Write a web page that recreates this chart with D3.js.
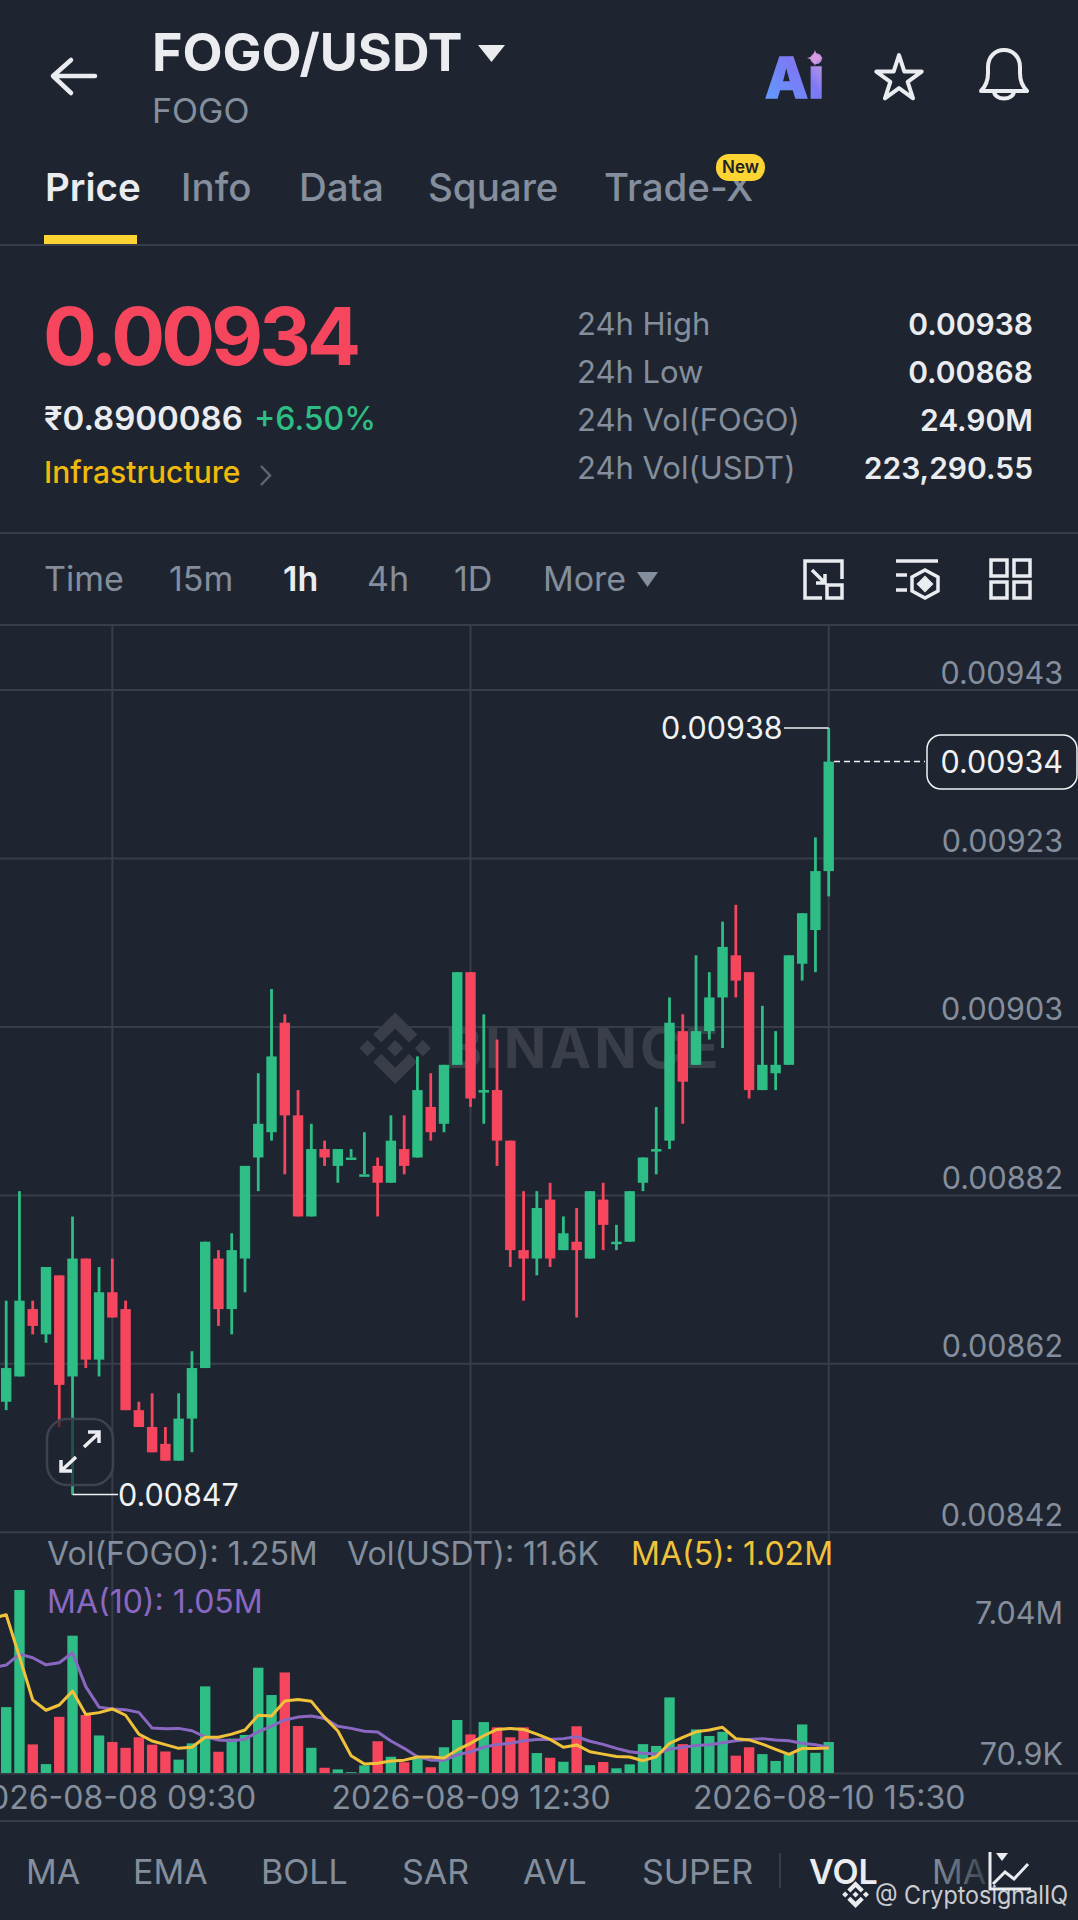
<!DOCTYPE html>
<html lang="en">
<head>
  <meta charset="UTF-8">
  <title>FOGO/USDT</title>
  <script src="https://d3js.org/d3.v7.min.js"></script>
  <style>
    html, body { margin: 0; background: #1e2530; }
    svg { display: block; }
    text { font-family: Inter, sans-serif; }
    .axis path, .axis line { display: none; }
    .axis text { fill: #848e9c; font-size: 30.5px; font-family: Inter, sans-serif; }
    .timeAxis text { font-size: 32px; }
  </style>
</head>
<body>
  <svg width="1078" height="1920"></svg>

  <script>
    // prices are in units of 0.00001, one hourly candle each
    const opens = [858,861,869,866,873,861,875,863,871,869,857,855,853,851,856,862,875,869,875,887,890,903,892,880,888,886,887,885,886,884,888,887,893,891,898,909,895,895,889,876,875,882,876,877,875,882,877,877,884,888,889,902,898,902,906,911,909,895,897,898,910,914,921];
    const closes = [862,870,867,874,860,875,863,871,868,857,855,852,851,856,862,877,869,876,886,891,899,892,880,888,887,888,887,885,884,889,886,895,890,898,909,894,895,889,876,875,881,875,878,876,883,879,877,883,887,888,903,896,902,906,912,908,895,898,898,911,916,921,934];
    const highs = [870,883,870,874,873,880,875,874,875,870,858,859,855,859,864,877,876,878,886,897,907,904,895,891,889,888,888,890,887,892,892,899,897,898,909,909,904,901,889,883,883,884,880,881,883,884,879,883,887,893,906,904,911,909,915,917,909,905,902,911,916,925,938];
    const lows = [857,861,866,865,855,847,862,861,868,857,855,852,851,851,852,862,867,866,871,883,889,885,880,880,886,884,887,885,880,884,885,887,889,890,898,893,891,886,874,870,873,874,876,868,875,876,876,877,883,885,888,891,898,901,900,906,894,895,895,898,908,909,918];
    // volume in millions
    const volumes = [2.58,7.04,1.16,0.41,2.21,5.30,2.28,1.50,1.25,1.03,1.43,1.15,0.89,0.58,1.20,3.37,0.88,1.38,1.52,4.08,3.04,3.90,1.86,1.03,0.27,0.21,0.10,0.36,1.28,0.69,0.48,0.64,0.29,1.05,2.09,1.54,2.01,1.81,1.43,1.81,0.83,0.65,0.50,1.85,0.37,0.49,0.25,0.40,1.17,1.10,2.95,1.17,1.73,1.48,1.64,0.73,1.05,0.79,0.53,0.79,1.92,0.84,1.25];
    // the MA lines start one candle left of the first one, off screen
    const ma5 = [5.96,6.10,4.50,2.85,2.46,2.66,3.19,2.30,2.37,2.51,2.27,1.55,1.29,1.15,1.01,1.05,1.43,1.43,1.55,1.71,2.27,2.24,2.81,2.87,2.80,2.19,1.67,0.73,0.41,0.44,0.53,0.56,0.68,0.68,0.64,0.95,1.20,1.49,1.73,1.77,1.73,1.55,1.35,1.05,1.14,0.88,0.79,0.70,0.68,0.54,0.69,1.20,1.43,1.64,1.71,1.81,1.38,1.33,1.17,0.97,0.78,1.01,1.00,1.02];
    const ma10 = [4.09,4.18,4.60,4.46,4.19,4.27,4.65,3.36,2.58,2.51,2.48,2.38,1.78,1.76,1.77,1.68,1.45,1.33,1.30,1.36,1.64,1.86,2.09,2.20,2.24,2.15,1.85,1.77,1.66,1.63,1.29,1.01,0.69,0.56,0.56,0.76,0.88,1.05,1.16,1.20,1.30,1.35,1.35,1.38,1.45,1.28,1.16,1.01,0.88,0.82,0.79,0.98,1.05,1.12,1.15,1.22,1.30,1.35,1.38,1.33,1.30,1.20,1.15,1.05];

    const priceTicks = [942.5,922.5,902.5,882.5,862.5,842.5];
    const priceTickLabels = ["0.00943","0.00923","0.00903","0.00882","0.00862","0.00842"];
    const volTicks = [7.04,0.0709];
    const volTickLabels = ["7.04M","70.9K"];
    const timeTicks = [8,35,62];
    const timeTickLabels = ["2026-08-08 09:30","2026-08-09 12:30","2026-08-10 15:30"];

    const statNames = ["24h High","24h Low","24h Vol(FOGO)","24h Vol(USDT)"];
    const statValues = ["0.00938","0.00868","24.90M","223,290.55"];

    const bg = "#1e2530", green = "#2ebd85", red = "#f6465d", yellow = "#f0b90b",
          gray = "#848e9c", white = "#eaecef", purple = "#8a68c2", line = "#383e49";

    const svg = d3.select("svg");
    const x = d3.scaleLinear().domain([0, 62]).range([6.2, 828.7]);
    const y = d3.scaleLinear().domain([942.5, 842.5]).range([690, 1532.3]);
    const yVol = d3.scaleLinear().domain([0.0709, 7.04]).range([1773, 1590]);

    function txt(px, py, s, size, fill, weight, anchor) {
      return svg.append("text").attr("x", px).attr("y", py).text(s)
        .attr("font-size", size).attr("fill", fill)
        .attr("font-weight", weight || 400).attr("text-anchor", anchor || "start");
    }
    function hline(py) {
      svg.append("line").attr("x1", 0).attr("x2", 1078).attr("y1", py).attr("y2", py)
        .attr("stroke", line).attr("stroke-width", 2);
    }
    const logo = "M38.73 53.2 63 28.94l24.28 24.28 14.12-14.12L63 .69 24.61 39.08zM.69 63l14.12-14.12L28.93 63 14.81 77.12zm38.04 9.8L63 97.06l24.28-24.28 14.13 14.11L63 125.31 24.61 86.92zM97.07 63l14.12-14.12L125.31 63l-14.12 14.12zM77.32 63 63 48.67 52.41 59.26l-1.22 1.22-2.51 2.51L63 77.32z";

    // header
    svg.append("path").attr("d", "M95 76H54M71 60 53 76l18 17").attr("fill", "none")
      .attr("stroke", white).attr("stroke-width", 4.5).attr("stroke-linecap", "round").attr("stroke-linejoin", "round");
    txt(152, 71, "FOGO/USDT", 52, white, 700);
    svg.append("path").attr("d", "M478 45h27l-13.5 17z").attr("fill", white);
    txt(152, 123, "FOGO", 34, gray);

    const aiGrad = svg.append("defs").append("linearGradient").attr("id", "aiGrad")
      .attr("x1", 0).attr("y1", 1).attr("x2", 1).attr("y2", 0);
    aiGrad.append("stop").attr("offset", "0%").attr("stop-color", "#5aa2ff");
    aiGrad.append("stop").attr("offset", "60%").attr("stop-color", "#7d78f5");
    aiGrad.append("stop").attr("offset", "100%").attr("stop-color", "#e8a8d8");
    txt(765, 98, "Ai", 56, "url(#aiGrad)", 800).attr("stroke", "url(#aiGrad)").attr("stroke-width", 1.5);
    svg.append("path").attr("d", "M815 50q1.5 7 8 8q-6.500 1-8 8q-1.500-7-8-8q6.500-1 8-8z").attr("fill", "#d69be0");
    svg.append("path").attr("d", d3.symbol(d3.symbolStar).size(640)())
      .attr("transform", "translate(899,79)").attr("fill", "none").attr("stroke", white)
      .attr("stroke-width", 4).attr("stroke-linejoin", "round");
    svg.append("path").attr("d", "M981 91c5-5 7-10 7-18v-6c0-10 7-17 16-17s16 7 16 17v6c0 8 2 13 7 18zM994 91c0 10 20 10 20 0")
      .attr("fill", "none").attr("stroke", white).attr("stroke-width", 4).attr("stroke-linejoin", "round");

    // tabs
    const tabs = ["Price","Info","Data","Square","Trade-X"];
    const tabX = [45,181,299,428,604];
    tabs.forEach((t, i) => txt(tabX[i], 201, t, 38.5, i === 0 ? white : gray, i === 0 ? 600 : 500));
    hline(245);
    svg.append("rect").attr("x", 44).attr("y", 235).attr("width", 93).attr("height", 9).attr("fill", "#fcd535");
    svg.append("rect").attr("x", 716).attr("y", 154).attr("width", 49).attr("height", 27).attr("rx", 13).attr("fill", "#fcd535");
    txt(740.500, 173, "New", 17, "#1e2329", 600, "middle");

    // price block
    txt(43, 365, "0.00934", 80, red, 700).attr("letter-spacing", -3.900);
    txt(44, 430, "₹0.8900086", 33, white, 600);
    txt(254, 430, "+6.50%", 32, green, 500);
    txt(44, 483, "Infrastructure", 30, yellow, 500);
    svg.append("path").attr("d", "M261 466l9 9.500-9 9.500").attr("fill", "none").attr("stroke", "#5e6673").attr("stroke-width", 2.500);
    const statY = [335,383,431,479];
    statNames.forEach((t, i) => {
      txt(577, statY[i], t, 31, gray);
      txt(1033, statY[i], statValues[i], 30, white, 600, "end");
    });
    hline(533);

    // interval row
    const intervals = ["Time","15m","1h","4h","1D","More"];
    const intervalX = [44,169,283,367,454,543];
    intervals.forEach((t, i) => txt(intervalX[i], 591, t, 34, i === 2 ? white : gray, i === 2 ? 600 : 400));
    svg.append("path").attr("d", "M637 572h21l-10.500 15z").attr("fill", gray);
    const iconG = svg.append("g").attr("fill", "none").attr("stroke", white).attr("stroke-width", 3.500);
    iconG.append("path").attr("d", "M822 598h-17v-37h37v18M812 570l13 13M825 574v9h-9");
    iconG.append("rect").attr("x", 827).attr("y", 585).attr("width", 15).attr("height", 13);
    iconG.append("path").attr("d", "M896 561h42M896 575h11M896 590h11M925 570l13 7v14l-13 7-13-7v-14z");
    iconG.append("path").attr("d", "M925 578l6 6-6 6-6-6z").attr("fill", white);
    [[991,560],[1014,560],[991,582],[1014,582]].forEach(p => iconG.append("rect")
      .attr("x", p[0]).attr("y", p[1]).attr("width", 16).attr("height", 16));
    hline(625);

    // watermark
    svg.append("path").attr("d", logo).attr("fill", "#393e48")
      .attr("transform", "translate(359,1012) scale(0.575)");
    txt(445, 1068, "BINANCE", 56, "#393e48", 700).attr("letter-spacing", 3);

    // grid
    svg.selectAll(".gridY").data(priceTicks).enter().append("line").attr("class", "gridY")
      .attr("x1", 0).attr("x2", 1078).attr("y1", d => y(d)).attr("y2", d => y(d))
      .attr("stroke", line).attr("stroke-width", 2);
    svg.selectAll(".gridX").data(timeTicks).enter().append("line").attr("class", "gridX")
      .attr("x1", d => x(d)).attr("x2", d => x(d)).attr("y1", 625).attr("y2", 1773)
      .attr("stroke", line).attr("stroke-width", 2);
    hline(1773.500);
    hline(1821);

    // volume
    const isUp = i => closes[i] >= opens[i];
    svg.selectAll(".vol").data(volumes).enter().append("rect").attr("class", "vol")
      .attr("x", (d, i) => x(i) - 5.200).attr("width", 10.400)
      .attr("y", d => yVol(d)).attr("height", d => yVol(0.0709) - yVol(d))
      .attr("fill", (d, i) => isUp(i) ? green : red);

    const maLine = d3.line().x((d, i) => x(i - 1)).y(d => yVol(d));
    [[ma10, purple], [ma5, "#f0c23a"]].forEach(s => svg.append("path")
      .attr("d", maLine(s[0])).attr("fill", "none").attr("stroke", s[1])
      .attr("stroke-width", 3).attr("stroke-linejoin", "round"));

    // candles
    const idx = d3.range(opens.length);
    svg.selectAll(".wick").data(idx).enter().append("line").attr("class", "wick")
      .attr("x1", i => x(i)).attr("x2", i => x(i))
      .attr("y1", i => y(highs[i])).attr("y2", i => y(lows[i]))
      .attr("stroke", i => isUp(i) ? green : red).attr("stroke-width", 2.800);
    svg.selectAll(".body").data(idx).enter().append("rect").attr("class", "body")
      .attr("x", i => x(i) - 5.200).attr("width", 10.400)
      .attr("y", i => y(Math.max(opens[i], closes[i])))
      .attr("height", i => Math.max(2.500, Math.abs(y(opens[i]) - y(closes[i]))))
      .attr("fill", i => isUp(i) ? green : red);

    // axes
    const priceAxis = d3.axisLeft(y).tickValues(priceTicks).tickSize(0).tickPadding(0)
      .tickFormat((d, i) => priceTickLabels[i]);
    svg.append("g").attr("class", "axis").attr("transform", "translate(1063,0)").call(priceAxis)
      .selectAll("text").attr("dy", -7);
    const volAxis = d3.axisLeft(yVol).tickValues(volTicks).tickSize(0).tickPadding(0)
      .tickFormat((d, i) => volTickLabels[i]);
    svg.append("g").attr("class", "axis").attr("transform", "translate(1063,0)").call(volAxis)
      .selectAll("text").attr("dy", (d, i) => i === 0 ? 33 : -9);
    const timeAxis = d3.axisBottom(x).tickValues(timeTicks).tickSize(0).tickPadding(0)
      .tickFormat((d, i) => timeTickLabels[i]);
    svg.append("g").attr("class", "axis timeAxis").attr("transform", "translate(0,1786)").call(timeAxis);

    // high / low / last markers
    const dim = "#f0f1f3";
    svg.append("path").attr("d", `M784 ${y(938)}H${x(62)}`).attr("stroke", dim).attr("stroke-width", 1.500);
    txt(661, 739, "0.00938", 30.5, dim);
    svg.append("path").attr("d", `M${x(5)} ${y(847)}H118`).attr("stroke", dim).attr("stroke-width", 1.500);
    txt(118, 1506, "0.00847", 30.5, dim);
    svg.append("path").attr("d", `M834 ${y(934)}H925`).attr("stroke", dim).attr("stroke-width", 1.500).attr("stroke-dasharray", "6 4");
    svg.append("rect").attr("x", 927).attr("y", 735).attr("width", 150).attr("height", 54).attr("rx", 14)
      .attr("fill", bg).attr("stroke", dim).attr("stroke-width", 1.500);
    txt(1063, 773, "0.00934", 30.5, dim, 400, "end");

    // expand button
    svg.append("rect").attr("x", 47).attr("y", 1419).attr("width", 66).attr("height", 66).attr("rx", 20)
      .attr("fill", bg).attr("fill-opacity", 0.7).attr("stroke", "#3d4350").attr("stroke-width", 2.500);
    svg.append("path").attr("d", "M84 1447l15-14M88 1432h11v11M76 1457l-15 14M61 1460v11h11").attr("fill", "none")
      .attr("stroke", white).attr("stroke-width", 3.500);

    // volume legend
    txt(47, 1565, "Vol(FOGO): 1.25M", 32, gray);
    txt(347, 1565, "Vol(USDT): 11.6K", 32, gray);
    txt(631, 1565, "MA(5): 1.02M", 32, "#f0c23a");
    txt(47, 1613, "MA(10): 1.05M", 32, purple);

    // indicator row
    const indicators = ["MA","EMA","BOLL","SAR","AVL","SUPER","VOL"];
    const indicatorX = [26,133,261,402,523,642,809];
    indicators.forEach((t, i) => txt(indicatorX[i], 1884, t, 34, i === 6 ? white : gray, i === 6 ? 600 : 400));
    svg.append("line").attr("x1", 780).attr("x2", 780).attr("y1", 1853).attr("y2", 1888).attr("stroke", line).attr("stroke-width", 2);
    const fade = svg.select("defs").append("linearGradient").attr("id", "fade");
    fade.append("stop").attr("offset", "0%").attr("stop-color", gray);
    fade.append("stop").attr("offset", "100%").attr("stop-color", gray).attr("stop-opacity", 0.3);
    txt(932, 1884, "MA", 34, "url(#fade)");
    svg.append("path").attr("d", "M990 1852v37h41M993 1884l12-12 9 7 14-15").attr("fill", "none")
      .attr("stroke", white).attr("stroke-width", 3);
    svg.append("path").attr("d", "M996 1853h12l-6 8z").attr("fill", white);
    svg.append("path").attr("d", logo).attr("fill", white)
      .attr("transform", "translate(842,1881) scale(0.215)");
    txt(875, 1904, "@ CryptosignalIQ", 25, white).attr("fill-opacity", 0.85)
      .attr("textLength", 193).attr("lengthAdjust", "spacingAndGlyphs");
  </script>
</body>
</html>
